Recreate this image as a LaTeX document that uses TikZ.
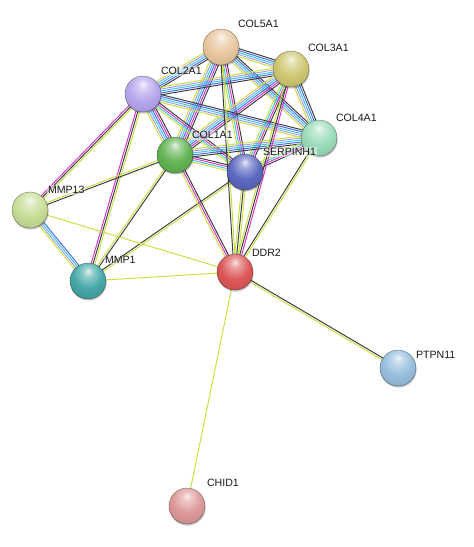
\documentclass[tikz,border=0pt]{standalone}
\usepackage{fontspec}
\setmainfont{Liberation Sans}
\usetikzlibrary{calc,shadows}
\pgfdeclarelayer{bg}
\pgfdeclarelayer{edges}
\pgfsetlayers{bg,edges,main}
\makeatletter
\pgfdeclareradialshading[tikz@ball]{stringball}{\pgfqpoint{0bp}{14bp}}{%
 color(0bp)=(tikz@ball!15!white);
 color(7bp)=(tikz@ball!55!white);
 color(20bp)=(tikz@ball!95!white);
 color(40bp)=(tikz@ball!88!black);
 color(52bp)=(tikz@ball!62!black);
 color(70bp)=(tikz@ball!50!black)}
\makeatother
\definecolor{eY}{HTML}{C6E03C}
\definecolor{eK}{HTML}{3A3A3A}
\definecolor{eM}{HTML}{E030C8}
\definecolor{eC}{HTML}{30C8F0}
\definecolor{eB}{HTML}{4A68E0}
\definecolor{eP}{HTML}{A898F0}
\definecolor{nC5}{HTML}{E8C49A}
\definecolor{nC3}{HTML}{CCC46A}
\definecolor{nC2}{HTML}{B4A2EC}
\definecolor{nC4}{HTML}{96DAB6}
\definecolor{nC1}{HTML}{5CB04C}
\definecolor{nSP}{HTML}{5562BE}
\definecolor{nM13}{HTML}{C4DC92}
\definecolor{nM1}{HTML}{3EA4A4}
\definecolor{nDD}{HTML}{DC5050}
\definecolor{nPT}{HTML}{92BCDC}
\definecolor{nCH}{HTML}{DC9494}
\newcommand{\strline}[3]{%
  \foreach \cc [count=\ii] in {#3} {\xdef\nstr{\ii}}%
  \foreach \cc [count=\ii] in {#3} {%
    \pgfmathsetmacro\offs{(\ii-(\nstr+1)/2)*1.9}%
    \draw[line width=0.95pt, \cc] ($(#1)!\offs pt!90:(#2)$) -- ($(#2)!\offs pt!-90:(#1)$);
  }%
}
\begin{document}
\begin{tikzpicture}[x=1pt,y=-1pt,
  sball/.style={circle, minimum size=36pt, inner sep=0pt, draw=black, draw opacity=0.4, line width=0.5pt,
     ball color=#1, shading=stringball,
     drop shadow={shadow xshift=0.6pt, shadow yshift=-1.6pt, opacity=0.22, fill=black}},
  lbl/.style={anchor=west, inner sep=0.8pt, fill=white, fill opacity=0.45, text opacity=1,
     font=\fontsize{10.6}{12}\selectfont, text=black!90}]
\begin{pgfonlayer}{bg}
\fill[white] (0,0) rectangle (474,547);
\end{pgfonlayer}
\useasboundingbox (0,0) rectangle (474,547);
% nodes
\node[sball=nC5]  (c5)  at (221,47)  {};
\node[sball=nC3]  (c3)  at (291,69)  {};
\node[sball=nC2]  (c2)  at (143,94)  {};
\node[sball=nC4]  (c4)  at (319,138) {};
\node[sball=nC1]  (c1)  at (175,155) {};
\node[sball=nSP]  (sp)  at (245,172) {};
\node[sball=nM13] (m13) at (30,210)  {};
\node[sball=nM1]  (m1)  at (88,281)  {};
\node[sball=nDD]  (dd)  at (235,272) {};
\node[sball=nPT]  (pt)  at (398,368) {};
\node[sball=nCH]  (ch)  at (187,506) {};
% labels
\node[lbl] (tc5)  at (237,24)  {COL5A1};
\node[lbl] (tc3)  at (307,48)  {COL3A1};
\node[lbl] (tc2)  at (160,71)  {COL2A1};
\node[lbl] (tc4)  at (335,118) {COL4A1};
\node[lbl] (tc1)  at (191,135) {COL1A1};
\node[lbl] (tsp)  at (262,152) {SERPINH1};
\node[lbl] (tm13) at (47,190)  {MMP13};
\node[lbl] (tm1)  at (104,260) {MMP1};
\node[lbl] (tdd)  at (251,253) {DDR2};
\node[lbl] (tpt)  at (415,355) {PTPN11};
\node[lbl] (tch)  at (206,483) {CHID1};
% edges
\begin{pgfonlayer}{edges}
\strline{c5}{c3}{eY,eP,eC,eB,eK}
\strline{c5}{c2}{eY,eP,eC,eB,eK}
\strline{c5}{c4}{eY,eP,eC,eB,eK}
\strline{c5}{c1}{eY,eP,eC,eB,eM,eK}
\strline{c5}{sp}{eY,eC,eM,eK}
\strline{c3}{c2}{eY,eP,eC,eB,eK}
\strline{c3}{c4}{eY,eP,eC,eB,eK}
\strline{c3}{c1}{eY,eP,eC,eB,eM,eK}
\strline{c3}{sp}{eY,eC,eM,eK}
\strline{c2}{c4}{eY,eP,eC,eB,eK}
\strline{c2}{c1}{eY,eP,eC,eB,eM,eK}
\strline{c2}{sp}{eY,eC,eM,eK}
\strline{c4}{c1}{eY,eP,eC,eB,eK}
\strline{c4}{sp}{eY,eC,eM,eK}
\strline{c1}{sp}{eY,eC,eM,eK}
\strline{c2}{m13}{eM,eK,eY}
\strline{c2}{m1}{eM,eK,eY}
\strline{c1}{m13}{eY,eK}
\strline{c1}{m1}{eY,eK}
\strline{sp}{m1}{eK,eY}
\strline{m13}{m1}{eY,eP,eC,eB}
\strline{m13}{dd}{eY}
\strline{m1}{dd}{eY}
\strline{c1}{dd}{eY,eM,eK}
\strline{c5}{dd}{eK,eY}
\strline{c3}{dd}{eY,eK,eM}
\strline{c4}{dd}{eK,eY}
\strline{sp}{dd}{eY,eK,eY}
\strline{dd}{pt}{eY,eK}
\strline{dd}{ch}{eY}
\end{pgfonlayer}
\end{tikzpicture}
\end{document}
